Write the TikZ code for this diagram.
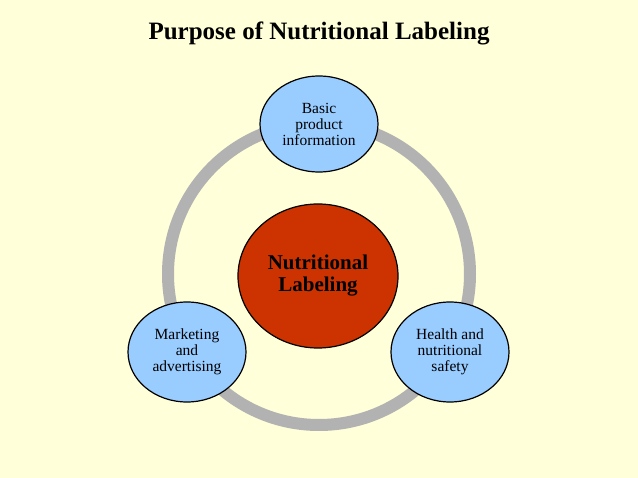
\documentclass[tikz,border=0pt]{standalone}
\usepackage{fontspec}
\setmainfont{Liberation Serif}
\usetikzlibrary{shapes.geometric}
\definecolor{bg}{HTML}{FFFFD9}
\definecolor{ringc}{HTML}{B2B2B2}
\definecolor{blueF}{HTML}{99CCFF}
\definecolor{redF}{HTML}{CC3300}
\begin{document}
\begin{tikzpicture}[x=1pt,y=-1pt,
  blob/.style={ellipse,draw=black,line width=1.2pt,fill=blueF,minimum width=118pt,minimum height=96pt,inner sep=0pt,align=center,font=\fontsize{15.5}{16}\selectfont},
  core/.style={ellipse,draw=black,line width=1.2pt,fill=redF,minimum width=160pt,minimum height=144pt,inner sep=0pt,align=center,font=\bfseries\fontsize{21}{22}\selectfont}]
\fill[bg] (0,0) rectangle (638,478);
\useasboundingbox (0,0) rectangle (638,478);
\node[font=\bfseries\fontsize{25}{27}\selectfont] (title) at (319,33) {Purpose of Nutritional Labeling};
\draw[ringc,line width=12pt] (319,274) circle[radius=151];
\node[core] (c) at (318,276) {Nutritional\\Labeling};
\node[blob] (t) at (319,124) {Basic\\product\\information};
\node[blob,minimum height=100pt] (l) at (187,352) {Marketing\\and\\advertising};
\node[blob,minimum height=100pt] (r) at (450,352) {Health and\\nutritional\\safety};
\end{tikzpicture}
\end{document}
